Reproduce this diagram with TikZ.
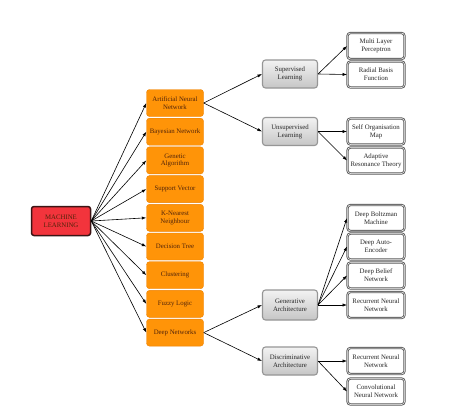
\documentclass[tikz,border=0pt]{standalone}
\usepackage{fontspec}
\setmainfont{Liberation Serif}
\usetikzlibrary{arrows.meta}
\definecolor{RootClr}{RGB}{242,52,60}
\definecolor{RootEdge}{RGB}{60,20,20}
\definecolor{AlgoClr}{RGB}{255,148,8}
\definecolor{AlgoEdge}{RGB}{236,128,0}
\definecolor{AlgoText}{RGB}{80,35,10}
\definecolor{ArchEdge}{RGB}{150,150,150}
\definecolor{LeafEdge}{RGB}{90,90,90}

\tikzset{
  box/.style={inner sep=0pt,align=center,font=\fontsize{6.8}{7.8}\selectfont,text=black!85},
  root/.style={box,draw=RootEdge,line width=1.5pt,fill=RootClr,rounded corners=2.5pt,
    minimum width=59pt,minimum height=29pt,text=AlgoText},
  algo/.style={box,draw=AlgoEdge,fill=AlgoClr,rounded corners=3pt,
    minimum width=57pt,minimum height=27pt,text=AlgoText},
  arch/.style={box,draw=ArchEdge,line width=1.1pt,top color=gray!10,bottom color=gray!45,
    rounded corners=3pt,minimum width=55pt,minimum height=28pt},
  leaf/.style={box,draw=LeafEdge,double=white,double distance=0.5pt,line width=0.9pt,
    rounded corners=3pt,minimum width=57pt,minimum height=26pt},
  link/.style={-{Latex[length=4.5pt,width=3.2pt]},line width=0.6pt}
}

\begin{document}
\begin{tikzpicture}[x=1pt,y=-1pt]
\useasboundingbox[fill=white] (0,0) rectangle (474,418);

\node[root] (ml) at (61,221) {MACHINE\\LEARNING};

\node[algo] (ann) at (175,103) {Artificial Neural\\Network};
\node[algo] (bayes) at (175,131.7) {Bayesian Network};
\node[algo] (gen) at (175,160.4) {Genetic\\Algorithm};
\node[algo] (svm) at (175,189.1) {Support Vector};
\node[algo] (knn) at (175,217.8) {K-Nearest\\Neighbour};
\node[algo] (tree) at (175,246.5) {Decision Tree};
\node[algo] (clust) at (175,275.2) {Clustering};
\node[algo] (fuzzy) at (175,303.9) {Fuzzy Logic};
\node[algo] (deep) at (175,332.6) {Deep Networks};

\node[arch] (sup) at (290,74) {Supervised\\Learning};
\node[arch] (unsup) at (290,131.5) {Unsupervised\\Learning};
\node[arch,minimum height=30pt] (genarch) at (290,305) {Generative\\Architecture};
\node[arch] (disarch) at (290,361) {Discriminative\\Architecture};

\node[leaf] (mlp) at (376,46) {Multi Layer\\Perceptron};
\node[leaf] (rbf) at (376,74.5) {Radial Basis\\Function};
\node[leaf] (som) at (376,131.5) {Self Organisation\\Map};
\node[leaf] (art) at (376,160.5) {Adaptive\\Resonance Theory};
\node[leaf] (dbm) at (376,218) {Deep Boltzman\\Machine};
\node[leaf] (dae) at (376,246.5) {Deep Auto-\\Encoder};
\node[leaf] (dbn) at (376,275.5) {Deep Belief\\Network};
\node[leaf] (rnn) at (376,305) {Recurrent Neural\\Network};
\node[leaf] (rnnb) at (376,361) {Recurrent Neural\\Network};
\node[leaf] (cnn) at (376,391.5) {Convolutional\\Neural Network};

\foreach \n in {ann,bayes,gen,svm,knn,tree,clust,fuzzy,deep}
  \draw[link] (ml.east) -- (\n.west);

\draw[link] (ann.east) -- (sup.west);
\draw[link] (ann.east) -- (unsup.west);
\draw[link] (deep.east) -- (genarch.west);
\draw[link] (deep.east) -- (disarch.west);

\draw[link] (sup.east) -- (mlp.west);
\draw[link] (sup.east) -- (rbf.west);
\draw[link] (unsup.east) -- (som.west);
\draw[link] (unsup.east) -- (art.west);
\foreach \n in {dbm,dae,dbn,rnn}
  \draw[link] (genarch.east) -- (\n.west);
\draw[link] (disarch.east) -- (rnnb.west);
\draw[link] (disarch.east) -- (cnn.west);

\end{tikzpicture}
\end{document}
